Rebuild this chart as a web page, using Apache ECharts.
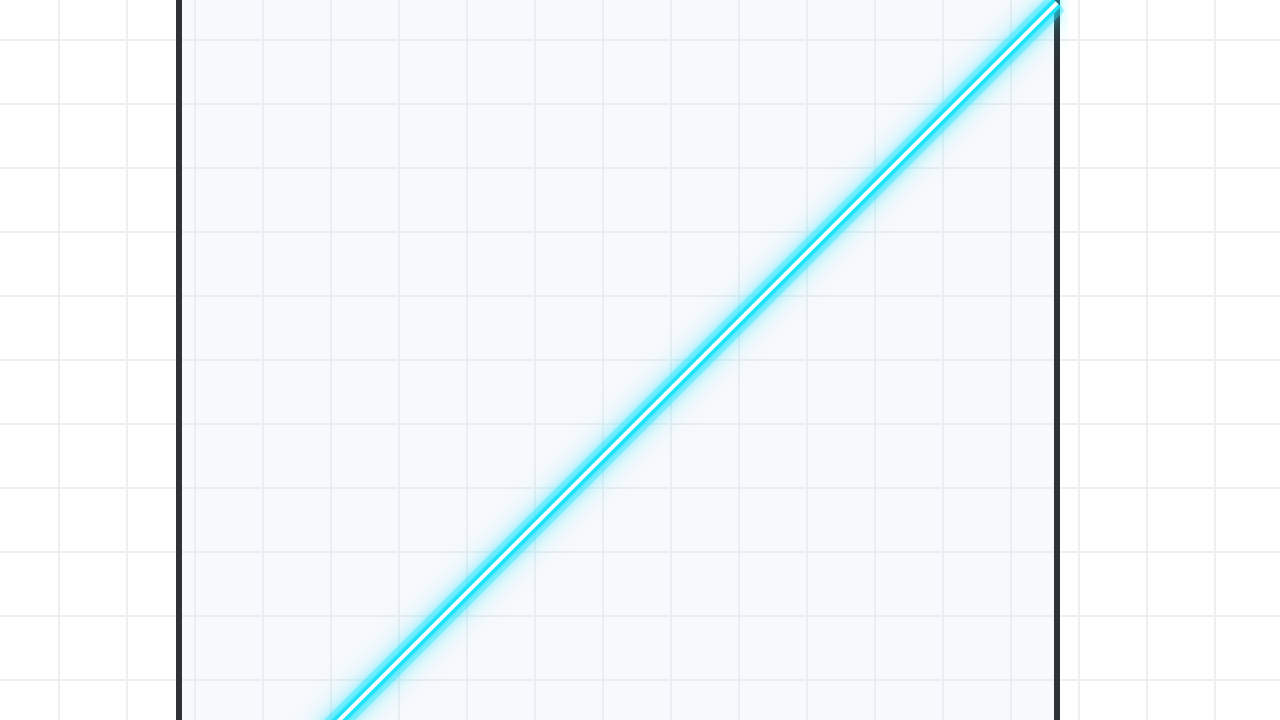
<!DOCTYPE html>
<html>
<head>
<meta charset="utf-8">
<script src="https://cdn.jsdelivr.net/npm/echarts@6/dist/echarts.min.js"></script>
<style>
  html, body { margin: 0; padding: 0; background: #ffffff; }
  #chart { width: 1280px; height: 720px; }
</style>
</head>
<body>
<div id="chart"></div>
<script>
// background grid ranges (one unit per cell)
var bgCols = [0, 20];
var bgRows = [0, 13];

// the diagonal line, in box units (0..100 on both axes)
var lineX = [16, 100];
var lineY = [0, 97];

var boxRange = [0, 100];

var linePoints = lineX.map(function(x, i) { return [x, lineY[i]]; });

// one layer of the neon line
function glowLayer(color, width, blur, z) {
  return {
    type: 'line',
    xAxisIndex: 1, yAxisIndex: 1,
    data: linePoints,
    symbol: 'none',
    silent: true,
    lineStyle: {
      color: color,
      width: width,
      shadowColor: blur ? '#1fe6ff' : 'transparent',
      shadowBlur: blur
    },
    z: z
  };
}

var chart = echarts.init(document.getElementById('chart'), null, { renderer: 'canvas' });
chart.setOption({
  animation: false,
  backgroundColor: '#ffffff',
  grid: [
    // page background grid
    { left: -9, width: 1360, top: -24, height: 832, show: false, outerBoundsMode: 'none', containLabel: false },
    // the framed box
    {
      left: 179, right: 223, top: -20, bottom: -20,
      outerBoundsMode: 'none', containLabel: false,
      show: true,
      z: 2,
      backgroundColor: 'rgba(226,233,242,0.25)',
      borderColor: '#2e3236',
      borderWidth: 6
    }
  ],
  xAxis: [
    {
      gridIndex: 0, type: 'value', min: bgCols[0], max: bgCols[1], interval: 1, z: -1,
      axisLine: { show: false }, axisTick: { show: false }, axisLabel: { show: false },
      splitLine: { show: true, lineStyle: { color: '#edeff2', width: 2 } }
    },
    {
      gridIndex: 1, type: 'value', min: boxRange[0], max: boxRange[1],
      axisLine: { show: false }, axisTick: { show: false }, axisLabel: { show: false },
      splitLine: { show: false }
    }
  ],
  yAxis: [
    {
      gridIndex: 0, type: 'value', min: bgRows[0], max: bgRows[1], interval: 1, z: -1,
      axisLine: { show: false }, axisTick: { show: false }, axisLabel: { show: false },
      splitLine: { show: true, lineStyle: { color: '#edeff2', width: 2 } }
    },
    {
      gridIndex: 1, type: 'value', min: boxRange[0], max: boxRange[1],
      axisLine: { show: false }, axisTick: { show: false }, axisLabel: { show: false },
      splitLine: { show: false }
    }
  ],
  series: [
    glowLayer('rgba(40,228,255,0.35)', 22, 30, 3),
    glowLayer('#1ce3f7', 11, 14, 4),
    glowLayer('#ffffff', 4, 0, 5)
  ]
});
window.addEventListener('resize', function() { chart.resize(); });
</script>
</body>
</html>
